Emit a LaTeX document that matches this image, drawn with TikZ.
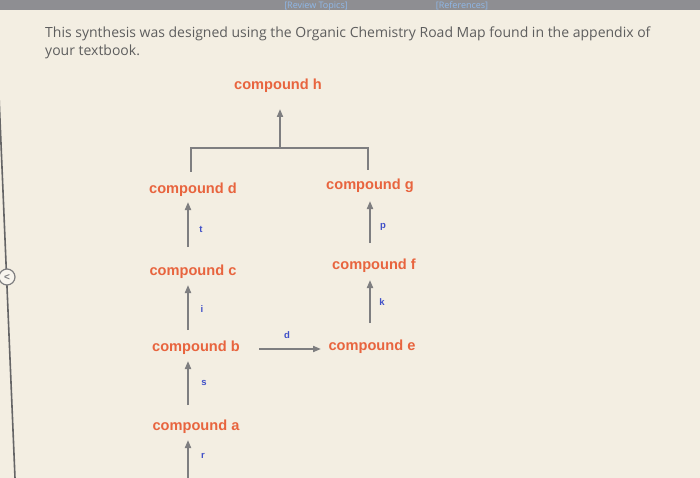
\documentclass[tikz,border=0pt]{standalone}
\usepackage{fontspec}
\setmainfont{Open Sans}
\newfontfamily\cpdfont{Liberation Sans}
\usetikzlibrary{arrows.meta}
\definecolor{bg}{HTML}{F3EEE2}
\definecolor{topbar}{HTML}{8E8E92}
\definecolor{linkblue}{HTML}{8FB8E8}
\definecolor{bodygray}{HTML}{5E5E5E}
\definecolor{cpdorange}{HTML}{E8643E}
\definecolor{reagblue}{HTML}{4050C8}
\definecolor{arrowgray}{HTML}{7E7E80}
\tikzset{
  cpd/.style={font=\cpdfont\bfseries\fontsize{14.6}{16}\selectfont, text=cpdorange, inner sep=0pt},
  reag/.style={font=\cpdfont\bfseries\fontsize{9.5}{10}\selectfont, text=reagblue, inner sep=0pt},
  rxn/.style={draw=arrowgray, line width=1.8pt, -{Triangle[length=8pt,width=6pt]}},
  plain/.style={draw=arrowgray, line width=1.8pt},
  toplink/.style={font=\fontsize{9}{10}\selectfont, text=linkblue, anchor=base, inner sep=0pt},
}
\begin{document}
\begin{tikzpicture}[x=1pt,y=-1pt]
\fill[bg] (0,0) rectangle (700,478);
\useasboundingbox (0,0) rectangle (700,478);
\fill[topbar] (0,0) rectangle (700,10);
\node[toplink] (rt) at (316,8.5) {[Review Topics]};
\node[toplink] (rf) at (462,8.5) {[References]};
% left edge
\draw[draw=arrowgray!80!black, line width=1.6pt] (-5,0) -- (15,478);
\node[circle, draw=arrowgray, fill=bg!60!white, line width=1.2pt, minimum size=16pt, inner sep=0pt, font=\cpdfont\bfseries\fontsize{10}{10}\selectfont, text=arrowgray] (back) at (7,277) {<};
% intro text
\node[anchor=base west, inner sep=0pt, text=bodygray, font=\fontsize{14}{16}\selectfont] (l1) at (45,38) {This synthesis was designed using the Organic Chemistry Road Map found in the appendix of};
\node[anchor=base west, inner sep=0pt, text=bodygray, font=\fontsize{14}{16}\selectfont] (l2) at (45,56) {your textbook.};
% compounds
\node[cpd] (h) at (278,86) {compound h};
\node[cpd] (d) at (193,190) {compound d};
\node[cpd] (g) at (370,186) {compound g};
\node[cpd] (c) at (193,272) {compound c};
\node[cpd] (f) at (374,266) {compound f};
\node[cpd] (b) at (196,348) {compound b};
\node[cpd] (e) at (372,347) {compound e};
\node[cpd] (a) at (196,427) {compound a};
% bracket
\coordinate (bl) at (191,172);
\coordinate (br) at (368,170);
\coordinate (bm) at (280,148);
\draw[plain] (bl) -- (191,148) -- (368,148) -- (br);
\path[rxn] (bm) -- (280,109);
% vertical arrows
\path[rxn] (188,247) -- (188,202);
\node[reag] (t) at (201,229) {t};
\path[rxn] (370,243) -- (370,201);
\node[reag] (p) at (383,227) {p};
\path[rxn] (188,330) -- (188,285);
\node[reag] (i) at (202,309) {i};
\path[rxn] (370,323) -- (370,280);
\node[reag] (k) at (382,302) {k};
\path[rxn] (188,405) -- (188,361);
\node[reag] (s) at (204,383) {s};
\path[rxn] (188,480) -- (188,440);
\node[reag] (r) at (203,456) {r};
% horizontal arrow
\path[rxn] (259,349) -- (321,349);
\node[reag] (dd) at (287,335) {d};
\end{tikzpicture}
\end{document}
